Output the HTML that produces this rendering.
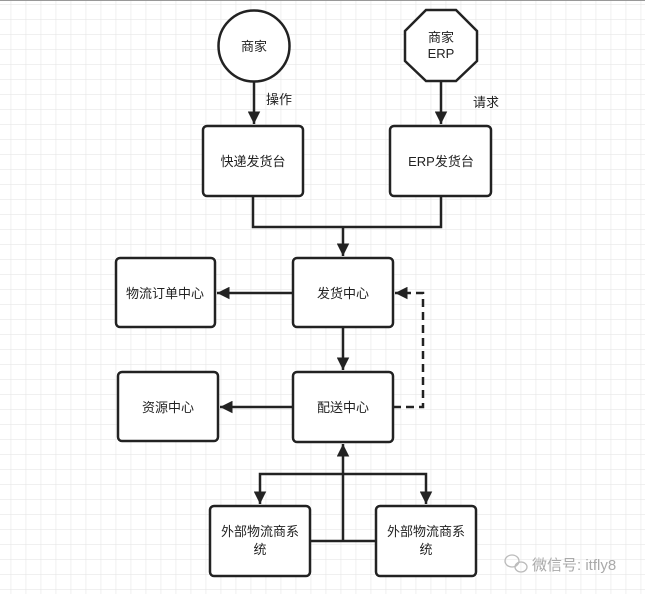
<!DOCTYPE html>
<html><head><meta charset="utf-8"><style>
html,body{margin:0;padding:0;background:#fff}
svg{display:block}
text{font-family:"Liberation Sans","Noto Sans CJK SC",sans-serif;font-size:13px;fill:#222}
</style></head><body>
<svg width="645" height="594" viewBox="0 0 645 594" xmlns="http://www.w3.org/2000/svg">
<defs>
<pattern id="g" x="10.7" y="4.3" width="15" height="15" patternUnits="userSpaceOnUse">
<path d="M0 0V15M0 0H15" stroke="#e2e2e2" stroke-width="1" fill="none"/>
</pattern>
<marker id="a" viewBox="0 0 10 10" refX="10" refY="5" markerWidth="5" markerHeight="5" orient="auto" markerUnits="strokeWidth">
<path d="M0 0L10 5L0 10z" fill="#222"/>
</marker>
</defs>
<rect width="645" height="594" fill="url(#g)"/>
<line x1="0" y1="0.5" x2="645" y2="0.5" stroke="#999" stroke-width="1"/>
<g stroke="#222" stroke-width="2.5" fill="#fff">
<circle cx="254" cy="46" r="35.5"/>
<polygon points="426,10 456,10 477,31 477,61 456,81 426,81 405,61 405,31"/>
<rect x="203" y="126" width="100" height="70" rx="4"/>
<rect x="390" y="126" width="101" height="70" rx="4"/>
<rect x="293" y="258" width="100" height="69" rx="4"/>
<rect x="116" y="258" width="99" height="69" rx="4"/>
<rect x="293" y="372" width="100" height="70" rx="4"/>
<rect x="118" y="372" width="100" height="69" rx="4"/>
<rect x="210" y="506" width="100" height="70" rx="4"/>
<rect x="376" y="506" width="100" height="70" rx="4"/>
</g>
<g stroke="#222" stroke-width="2.5" fill="none">
<line x1="254" y1="82" x2="254" y2="124" marker-end="url(#a)"/>
<line x1="441" y1="82" x2="441" y2="124" marker-end="url(#a)"/>
<polyline points="253,196 253,227 441,227 441,196"/>
<line x1="343" y1="227" x2="343" y2="256" marker-end="url(#a)"/>
<line x1="293" y1="293" x2="217" y2="293" marker-end="url(#a)"/>
<line x1="343" y1="327" x2="343" y2="370" marker-end="url(#a)"/>
<line x1="293" y1="407" x2="220" y2="407" marker-end="url(#a)"/>
<polyline points="393,407 423,407 423,293 395,293" stroke-dasharray="8,5" marker-end="url(#a)"/>
<line x1="343" y1="541" x2="343" y2="444" marker-end="url(#a)"/>
<polyline points="343,474 260,474 260,504" marker-end="url(#a)"/>
<polyline points="343,474 426,474 426,504" marker-end="url(#a)"/>
<line x1="310" y1="541" x2="376" y2="541"/>
</g>
<g text-anchor="middle">
<text x="254" y="51">商家</text>
<text x="441" y="42">商家</text>
<text x="441" y="58">ERP</text>
<text x="279" y="104">操作</text>
<text x="486" y="107">请求</text>
<text x="253" y="166">快递发货台</text>
<text x="441" y="166">ERP发货台</text>
<text x="343" y="298">发货中心</text>
<text x="165" y="298">物流订单中心</text>
<text x="343" y="412">配送中心</text>
<text x="168" y="412">资源中心</text>
<text x="260" y="536">外部物流商系</text>
<text x="260" y="554">统</text>
<text x="426" y="536">外部物流商系</text>
<text x="426" y="554">统</text>
</g>
<text x="532" y="570" style="font-size:15px;fill:#aaa">微信号: itfly8</text>
<g stroke="#bbb" stroke-width="1.3" fill="none">
<ellipse cx="512" cy="561" rx="7" ry="6"/>
<ellipse cx="521" cy="567" rx="6" ry="5"/>
</g>
</svg>
</body></html>
